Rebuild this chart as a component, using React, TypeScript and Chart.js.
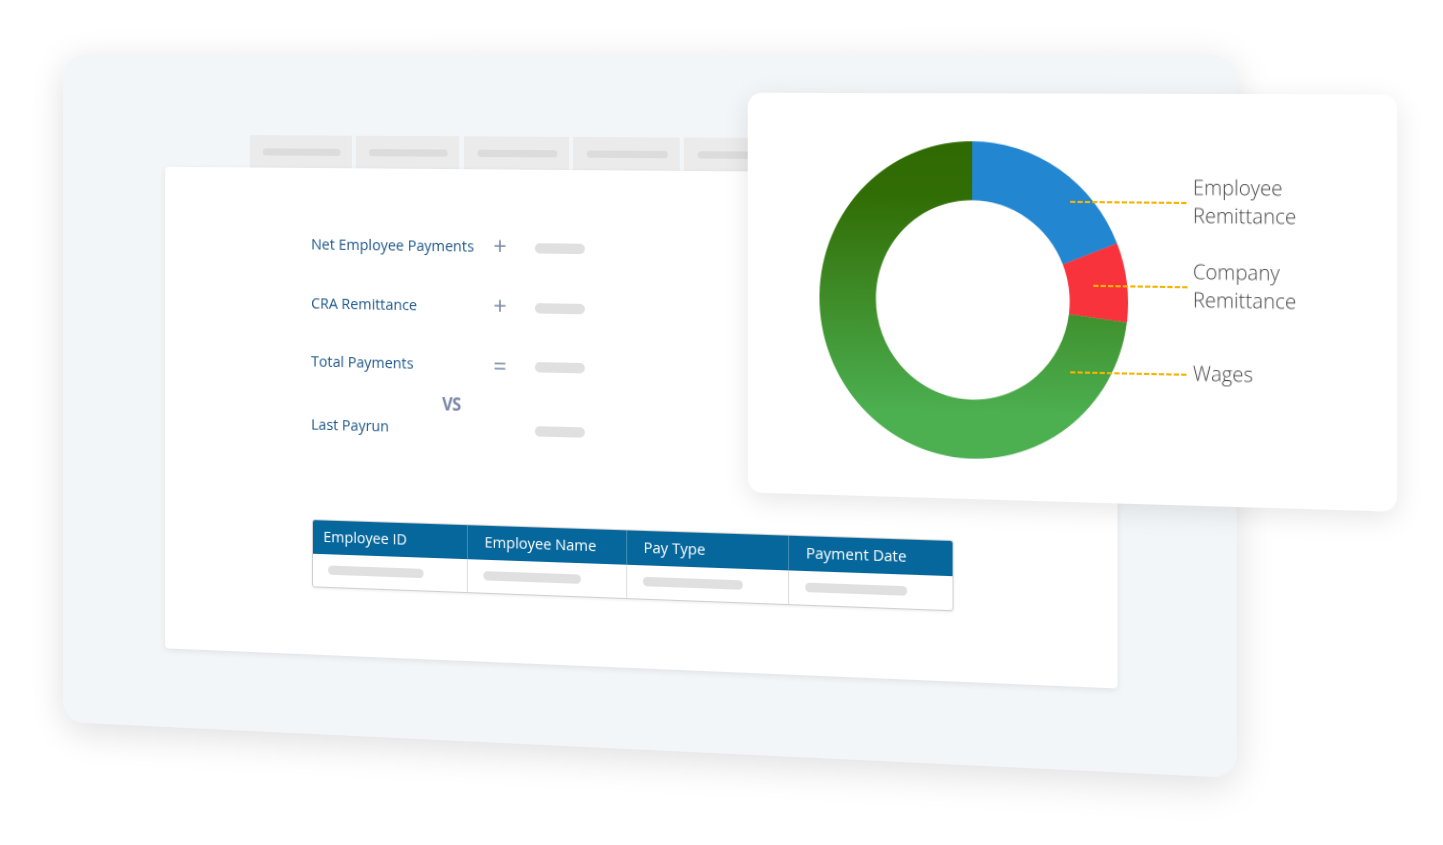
import React, { useEffect, useRef } from 'react';
import { Chart, registerables } from 'chart.js';

Chart.register(...registerables);

// ---- data ----
const segmentNames = ['Employee Remittance', 'Company Remittance', 'Wages'];
const segmentLabelLines = [['Employee', 'Remittance'], ['Company', 'Remittance'], ['Wages']];
const segmentValues = [19, 8, 73];
const segmentColors = ['#2386d0', '#f8333c', '#4caf50'];
const wagesGradientStops = ['#2f6a03', '#326e06', '#4caf50', '#4daf51'];
const summaryLabels = ['Net Employee Payments', 'CRA Remittance', 'Total Payments', 'Last Payrun'];
const summaryOperators = ['+', '+', '=', ''];
const tableHeaders = ['Employee ID', 'Employee Name', 'Pay Type', 'Payment Date'];
const tabCount = 6;

// ---- layout (flat scene coordinates, projected by one perspective matrix) ----
const SCENE_MATRIX = 'matrix3d(0.908886,-0.0035915,0,-0.0000653, 0,1,0,0, 0,0,1,0, 63,55,0,1)';
const CHART_W = 619;
const CHART_H = 381;
const labelDy = [-93, -15, 66];
const leaderStart = [94, 116, 94];
const LEADER_END = 205;
const TEXT_X = 210;
const rowCenters = [186.5, 244.5, 302, 363.5];

const labelPlugin = {
  id: 'sideLabels',
  afterDatasetsDraw(chart: any) {
    const meta = chart.getDatasetMeta(0);
    const arc = meta.data[0];
    if (!arc) return;
    const cx = arc.x;
    const cy = arc.y;
    const ctx = chart.ctx;
    ctx.save();
    segmentLabelLines.forEach((lines, i) => {
      const y = cy + labelDy[i];
      ctx.beginPath();
      ctx.setLineDash([5, 2]);
      ctx.lineWidth = 2;
      ctx.strokeStyle = '#f5b400';
      ctx.moveTo(cx + leaderStart[i], y);
      ctx.lineTo(cx + LEADER_END, y);
      ctx.stroke();
      ctx.setLineDash([]);
      ctx.fillStyle = '#474747';
      ctx.font = '300 19px "Open Sans", "Noto Sans", sans-serif';
      ctx.textBaseline = 'middle';
      ctx.textAlign = 'left';
      const n = lines.length;
      lines.forEach((t, j) => {
        const ty = y + (j - (n - 1) / 2) * 26;
        ctx.fillText(t, cx + TEXT_X, ty);
      });
    });
    ctx.restore();
  },
};

function DonutChart() {
  const ref = useRef<HTMLCanvasElement | null>(null);
  useEffect(() => {
    if (!ref.current) return;
    const chart = new Chart(ref.current, {
      type: 'doughnut',
      data: {
        labels: segmentNames,
        datasets: [
          {
            data: segmentValues,
            backgroundColor: (c: any) => {
              const i = c.dataIndex;
              if (i !== 2) return segmentColors[i];
              const area = c.chart.chartArea;
              if (!area) return segmentColors[i];
              const g = c.chart.ctx.createLinearGradient(0, area.top, 0, area.bottom);
              g.addColorStop(0, wagesGradientStops[0]);
              g.addColorStop(0.18, wagesGradientStops[1]);
              g.addColorStop(0.85, wagesGradientStops[2]);
              g.addColorStop(1, wagesGradientStops[3]);
              return g;
            },
            borderWidth: 0,
            hoverOffset: 0,
            offset: 0,
          } as any,
        ],
      },
      options: {
        animation: false,
        responsive: false,
        devicePixelRatio: 2,
        cutout: '62.8%',
        layout: { padding: { left: 71, top: 45, right: 250, bottom: 38 } },
        plugins: { legend: { display: false }, tooltip: { enabled: false } },
        events: [],
      } as any,
      plugins: [labelPlugin],
    });
    return () => chart.destroy();
  }, []);
  return (
    <canvas
      ref={ref}
      width={CHART_W}
      height={CHART_H}
      style={{ position: 'absolute', left: 0, top: 0, width: CHART_W, height: CHART_H }}
    />
  );
}

const abs = (l: number, t: number, w: number, h: number): React.CSSProperties => ({
  position: 'absolute',
  left: l,
  top: t,
  width: w,
  height: h,
});

export default function App() {
  const font = '"Open Sans", "Noto Sans", sans-serif';
  const colW = 649 / 4;
  return (
    <div
      style={{
        position: 'fixed',
        left: 0,
        top: 0,
        width: 1400,
        height: 700,
        transform: SCENE_MATRIX,
        transformOrigin: '0 0',
        fontFamily: font,
      }}
    >
      {/* main card */}
      <div
        style={{
          ...abs(0, 0, 1186, 667),
          background: '#f3f6f9',
          borderRadius: 22,
          boxShadow: '0 8px 36px rgba(0,0,0,0.13)',
        }}
      />
      {/* tabs */}
      {Array.from({ length: tabCount }).map((_, i) => (
        <div key={i} style={{ ...abs(202 + i * 112.3, 79, 108, 32), background: '#ebebeb' }}>
          <div style={{ ...abs(14, 12.5, 82, 7), background: '#dcdcdc', borderRadius: 4 }} />
        </div>
      ))}
      {/* white card */}
      <div
        style={{
          ...abs(111, 111, 963, 478),
          background: '#ffffff',
          borderRadius: 4,
          boxShadow: '0 2px 6px rgba(0,0,0,0.08)',
        }}
      />
      {/* summary rows */}
      {summaryLabels.map((t, i) => (
        <div
          key={'l' + i}
          style={{
            ...abs(267, rowCenters[i] - 13, 220, 22),
            color: '#1c5689',
            fontSize: 15,
            lineHeight: '22px',
            whiteSpace: 'nowrap',
          }}
        >
          {t}
        </div>
      ))}
      {summaryOperators.map((op, i) =>
        op ? (
          <div
            key={'o' + i}
            style={{
              ...abs(451, rowCenters[i] - 15.5, 26, 28),
              color: '#7a88a8',
              fontSize: 24,
              fontWeight: 400,
              lineHeight: '28px',
              textAlign: 'center',
            }}
          >
            {op}
          </div>
        ) : null
      )}
      {rowCenters.map((c, i) => (
        <div key={'p' + i} style={{ ...abs(500, c - 5, 51, 10), background: '#e0e0e0', borderRadius: 5 }} />
      ))}
      <div
        style={{
          ...abs(398, 329, 32, 22),
          color: '#7a86a6',
          fontSize: 17,
          fontWeight: 700,
          lineHeight: '22px',
          textAlign: 'center',
          letterSpacing: -0.5,
        }}
      >
        VS
      </div>
      {/* table */}
      <div
        style={{
          ...abs(268, 456, 649, 67),
          background: '#fff',
          border: '1px solid #cfcfcf',
          borderRadius: 3,
          boxSizing: 'border-box',
          boxShadow: '0 1px 3px rgba(0,0,0,0.08)',
          overflow: 'hidden',
        }}
      >
        <div style={{ ...abs(-1, -1, 649, 34), background: '#05679c' }} />
        {tableHeaders.map((h, i) => (
          <React.Fragment key={'h' + i}>
            <div
              style={{
                ...abs(i * colW - 1 + (i === 0 ? 12 : 18), -2.5, colW - 20, 34),
                color: '#ffffff',
                fontSize: 15,
                lineHeight: '34px',
                whiteSpace: 'nowrap',
              }}
            >
              {h}
            </div>
            {i > 0 && (
              <>
                <div style={{ ...abs(i * colW - 1, -1, 1, 34), background: 'rgba(255,255,255,0.25)' }} />
                <div style={{ ...abs(i * colW - 1, 33, 1, 34), background: '#dcdcdc' }} />
              </>
            )}
            <div
              style={{
                ...abs(i * colW - 1 + 17, 44, 100, 9),
                background: '#e0e0e0',
                borderRadius: 5,
              }}
            />
          </React.Fragment>
        ))}
      </div>
      {/* chart card */}
      <div
        style={{
          ...abs(715, 36, CHART_W, CHART_H),
          background: '#ffffff',
          borderRadius: 14,
          boxShadow: '0 6px 26px rgba(0,0,0,0.10)',
        }}
      >
        <DonutChart />
      </div>
    </div>
  );
}
